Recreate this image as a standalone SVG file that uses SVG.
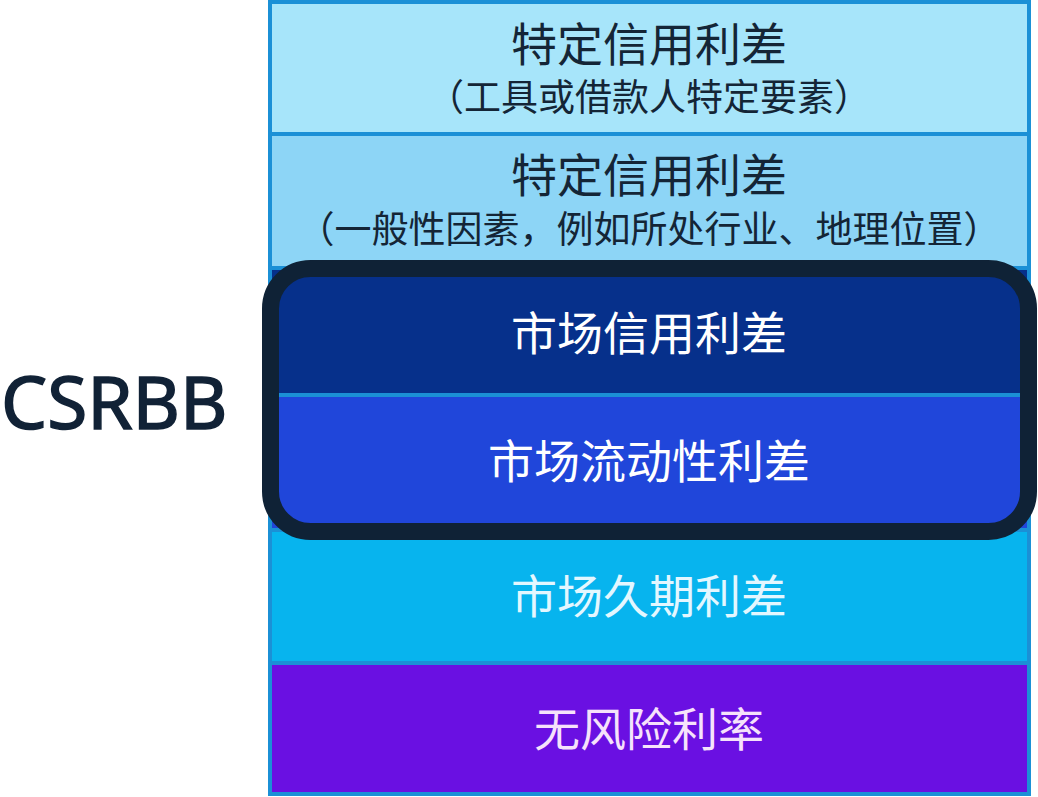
<svg xmlns="http://www.w3.org/2000/svg" width="1038" height="797" viewBox="0 0 1038 797">
<style>
.row{stroke:#1b90d6;stroke-width:4}
.t{font-family:"Noto Sans CJK SC","Noto Sans",sans-serif;text-anchor:middle}
.title{font-size:46px}
.sub{font-size:37px}
.dark{fill:#142536}
</style>
<rect width="1038" height="797" fill="#ffffff"/>
<g id="row1">
<rect class="row" x="270" y="2" width="759" height="132" fill="#a7e5fa"/>
<text class="t title dark" x="649" y="61">特定信用利差</text>
<text class="t sub dark" x="649" y="111">（工具或借款人特定要素）</text>
</g>
<g id="row2">
<rect class="row" x="270" y="134" width="759" height="134" fill="#8dd5f6"/>
<text class="t title dark" x="649" y="192">特定信用利差</text>
<text class="t sub dark" x="649" y="243">（一般性因素，例如所处行业、地理位置）</text>
</g>
<g id="row3">
<rect class="row" x="270" y="268" width="759" height="127" fill="#06308b"/>
<text class="t title" x="649" y="350" fill="#ffffff">市场信用利差</text>
</g>
<g id="row4">
<rect class="row" x="270" y="395" width="759" height="135" fill="#2046da" stroke="#2a8fe2"/>
<text class="t title" x="649" y="478" fill="#ffffff">市场流动性利差</text>
</g>
<g id="row5">
<rect class="row" x="270" y="530" width="759" height="133" fill="#07b4ee"/>
<text class="t title" x="649" y="613" fill="#e3f7ff">市场久期利差</text>
</g>
<g id="row6">
<rect class="row" x="270" y="663" width="759" height="131" fill="#6a10e2" stroke="#2f6be0"/>
<text class="t title" x="649" y="746" fill="#f6e2fb">无风险利率</text>
</g>
<g id="csrbb-outline">
<rect x="270.5" y="268.5" width="758" height="263" rx="40" ry="40" fill="none" stroke="#0f2236" stroke-width="17"/>
</g>
<g id="csrbb-label">
<text x="1" y="429" font-family="Noto Sans, sans-serif" font-size="73" fill="#112236" stroke="#112236" stroke-width="1.5">CSRBB</text>
</g>
<g id="connectors"></g>
</svg>
